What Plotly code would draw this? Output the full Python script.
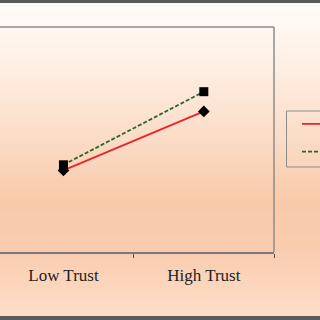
import plotly.graph_objects as go

categories = ["Low Trust", "High Trust"]
series_names = ["Low", "High"]
low_values = [2.45, 3.50]
high_values = [2.55, 3.85]

W, H = 320, 320
ML, MR, MT, MB = 0, 46, 27, 68

fig = go.Figure()
fig.add_trace(go.Scatter(
    x=categories, y=low_values, name=series_names[0], mode="lines+markers",
    line=dict(color="#e8262a", width=1.8),
    marker=dict(symbol="diamond", size=9, color="black"),
))
fig.add_trace(go.Scatter(
    x=categories, y=high_values, name=series_names[1], mode="lines+markers",
    line=dict(color="#2a662a", width=1.8, dash="4px,2px"),
    marker=dict(symbol="square", size=9, color="black"),
))

# background gradient strips (paper coords)
stops = [(0, (255, 252, 250)), (60, (254, 240, 230)), (130, (251, 222, 202)),
         (200, (248, 202, 170)), (250, (249, 204, 175)), (316, (253, 222, 200))]

def col(yp):
    for (y0, c0), (y1, c1) in zip(stops, stops[1:]):
        if y0 <= yp <= y1:
            t = (yp - y0) / (y1 - y0)
            return "rgb(%d,%d,%d)" % tuple(round(a + (b - a) * t) for a, b in zip(c0, c1))
    return "rgb(%d,%d,%d)" % stops[-1][1]

ph = H - MT - MB
pw = W - ML - MR
def py(yp):
    return (H - MB - yp) / ph
def px(xp):
    return (xp - ML) / pw

shapes = []
step = 4
for yp in range(0, 320, step):
    shapes.append(dict(type="rect", xref="paper", yref="paper", layer="below",
                       x0=-0.1, x1=1.5, y0=py(yp + step), y1=py(yp),
                       line=dict(width=0), fillcolor=col(yp + step / 2)))
# frame bands top & bottom
shapes.append(dict(type="rect", xref="paper", yref="paper", x0=-0.1, x1=1.5,
                   y0=py(3), y1=py(-2), line=dict(width=0), fillcolor="#5a5a5a"))
shapes.append(dict(type="rect", xref="paper", yref="paper", x0=-0.1, x1=1.5,
                   y0=py(325), y1=py(316), line=dict(width=0), fillcolor="#5a5a5a"))
# plot area border top and right
shapes.append(dict(type="line", xref="paper", yref="paper", x0=0, x1=1, y0=1, y1=1,
                   line=dict(color="#8c8c8c", width=1.5)))
shapes.append(dict(type="line", xref="paper", yref="paper", x0=1, x1=1, y0=0, y1=1,
                   line=dict(color="#8c8c8c", width=1.5)))
# legend box border
shapes.append(dict(type="rect", xref="paper", yref="paper", x0=px(286.5), x1=px(360),
                   y0=py(167), y1=py(111), line=dict(color="#8c8c8c", width=1)))

fig.update_layout(
    width=W, height=H,
    margin=dict(l=ML, r=MR, t=MT, b=MB, autoexpand=False),
    paper_bgcolor="#fbd9c0",
    plot_bgcolor="rgba(0,0,0,0)",
    shapes=shapes,
    showlegend=True,
    legend=dict(x=px(297), xanchor="left", y=py(105), yanchor="top",
                borderwidth=0, bgcolor="rgba(0,0,0,0)",
                font=dict(family="Liberation Serif", size=19, color="#222"),
                itemwidth=60),
    font=dict(family="Liberation Serif", size=17, color="#222"),
)
fig.update_xaxes(type="category", range=[-0.452, 1.5], showline=True,
                 linecolor="#7a7a7a", linewidth=1.5, ticks="outside", tickson="boundaries",
                 ticklen=4, tickcolor="#555", showgrid=False, zeroline=False,
                 ticklabelstandoff=7,
                 tickfont=dict(family="Liberation Serif", size=17, color="#222"))
fig.update_yaxes(range=[1, 5], showticklabels=False, showgrid=False, zeroline=False,
                 showline=False, ticks="")

fig.write_html("out.html")
